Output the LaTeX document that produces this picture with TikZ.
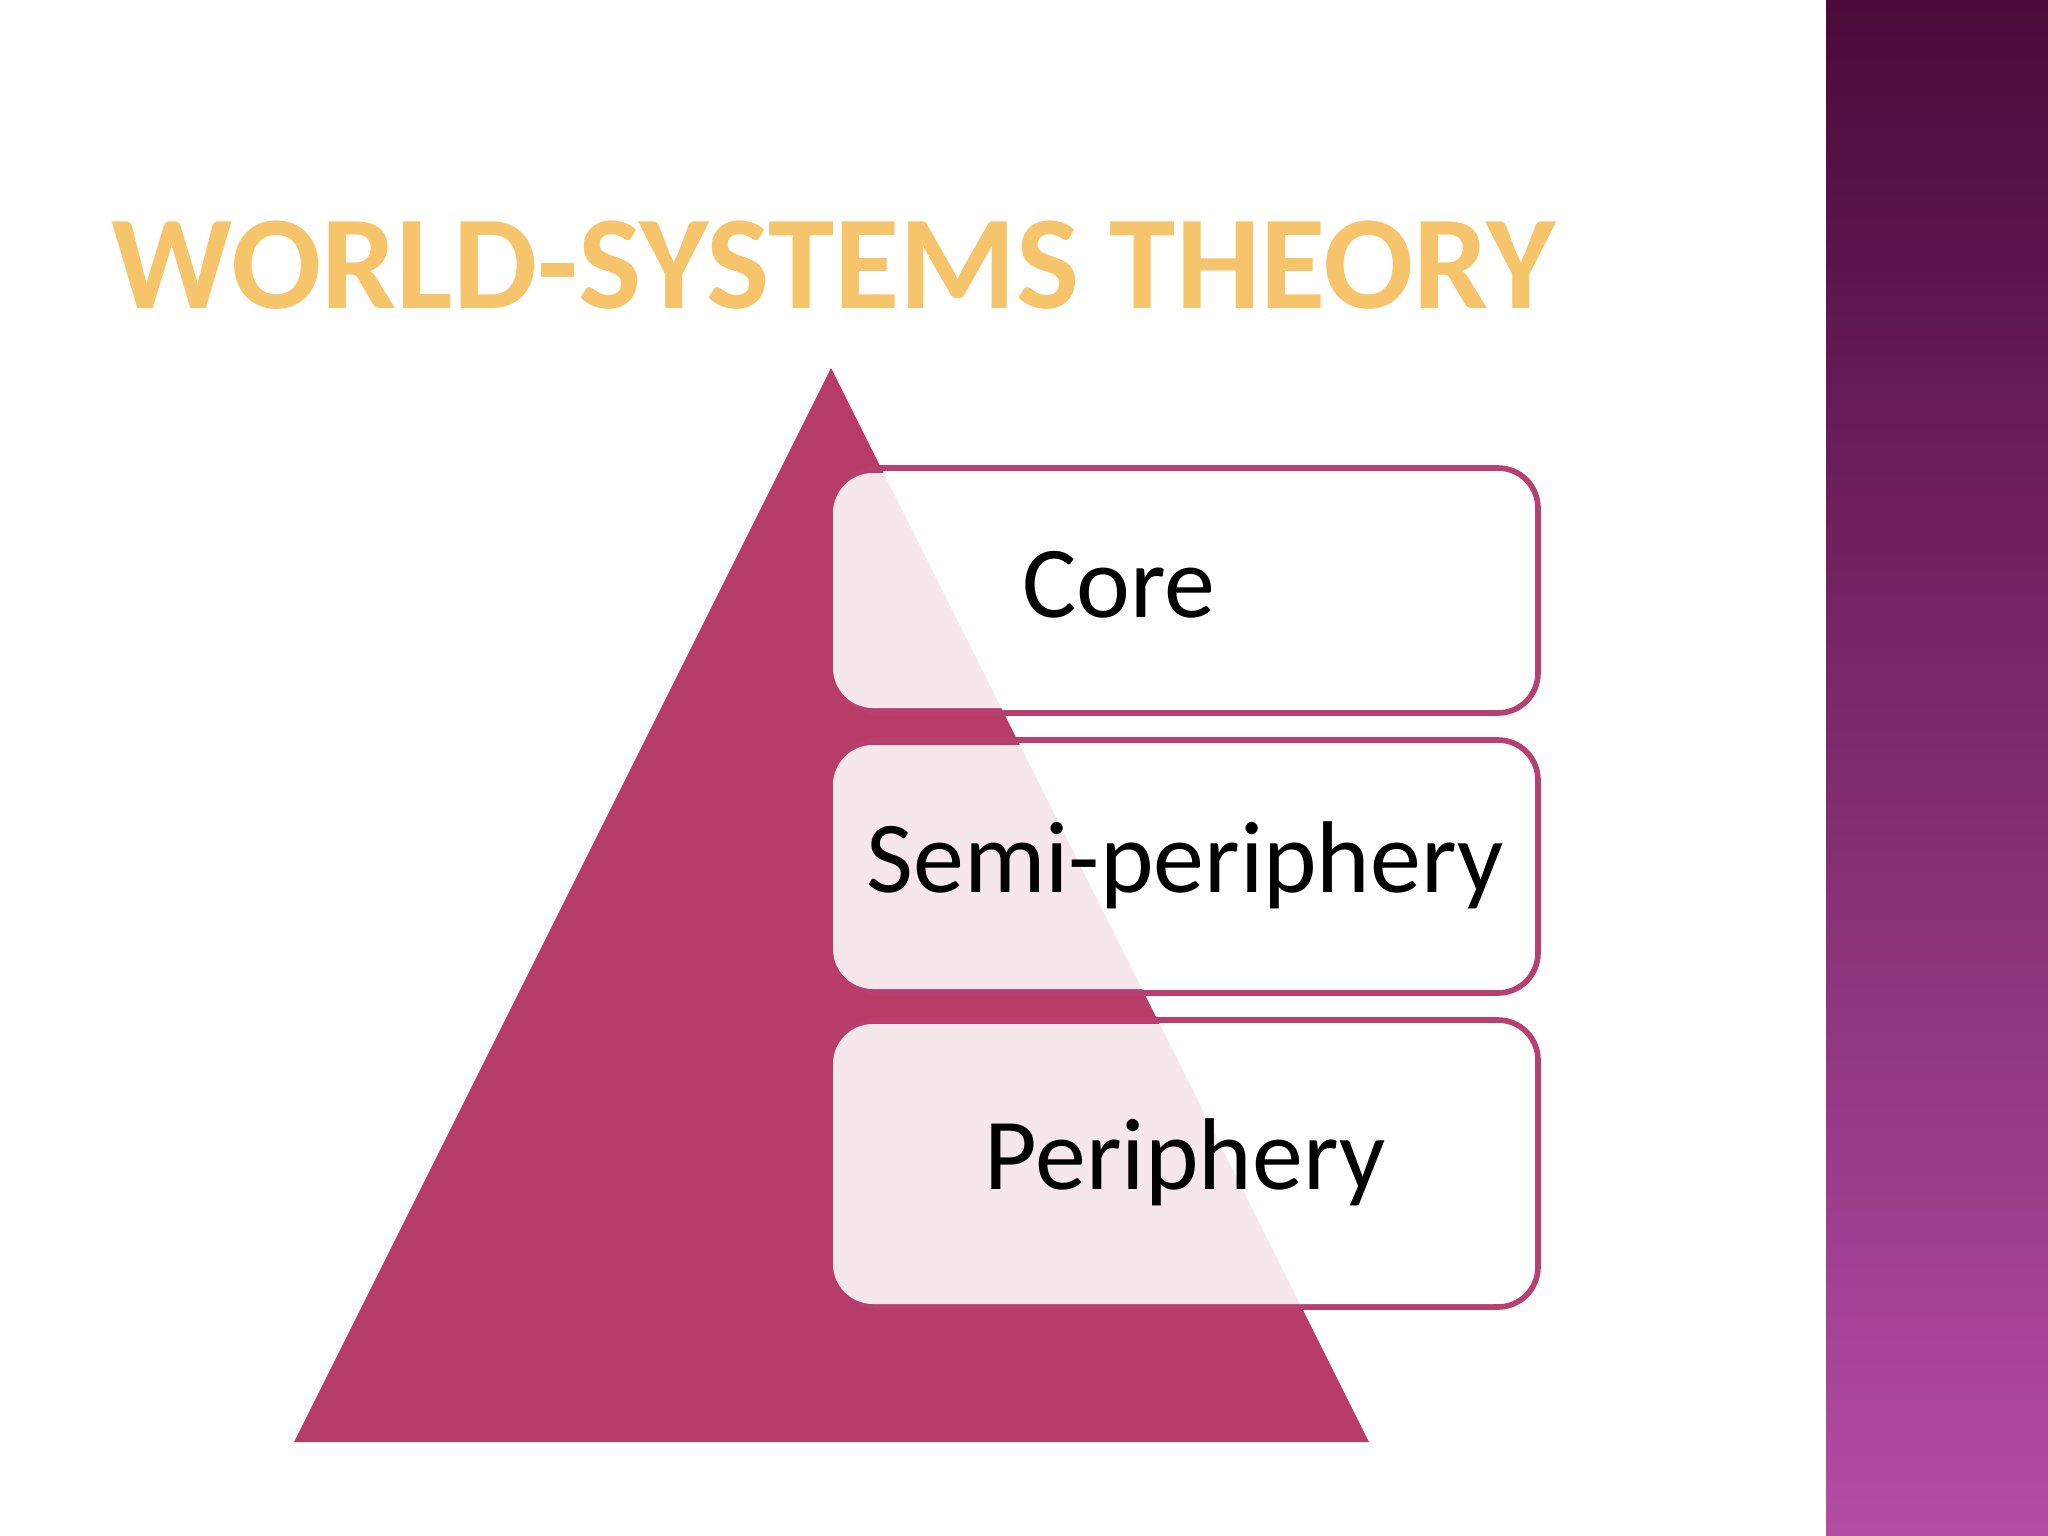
\documentclass[tikz,border=0pt]{standalone}
\usepackage{fontspec}
\setmainfont{Carlito}
\definecolor{tri}{HTML}{B83C68}
\definecolor{bord}{HTML}{B84070}
\definecolor{ptop}{HTML}{4A0A3A}
\definecolor{pbot}{HTML}{B44CA4}
\definecolor{ttl}{HTML}{F6C46A}
\begin{document}
\begin{tikzpicture}[x=0.01cm,y=-0.01cm,
  outl/.style={draw=bord,line width=1.6pt,rounded corners=0.4cm},
  fillb/.style={fill=white,fill opacity=0.88,rounded corners=0.4cm},
  lbl/.style={font=\fontsize{29}{34}\selectfont,text=black}]
\useasboundingbox (0,0) rectangle (2048,1536);
\fill[white] (0,0) rectangle (2048,1536);
\shade[top color=ptop,bottom color=pbot] (1826,0) rectangle (2048,1536);
\node[anchor=west,font=\fontsize{38}{44}\selectfont\bfseries,text=ttl,inner sep=0] (title) at (111,265) {WORLD-SYSTEMS THEORY};
\fill[tri] (831,368) coordinate (apex) -- (1369,1442) -- (294,1442) -- cycle;
\draw[outl] (840,468) rectangle (1538,713);
\fill[fillb] (833,473) rectangle (1533,708);
\draw[outl] (840,740) rectangle (1538,993);
\fill[fillb] (833,745) rectangle (1533,989);
\draw[outl] (840,1020) rectangle (1538,1307);
\fill[fillb] (833,1024) rectangle (1533,1304);
\node[lbl] (core) at (1119,585) {Core};
\node[lbl] (semi) at (1185,865) {Semi-periphery};
\node[lbl] (peri) at (1185,1162) {Periphery};
\end{tikzpicture}
\end{document}
